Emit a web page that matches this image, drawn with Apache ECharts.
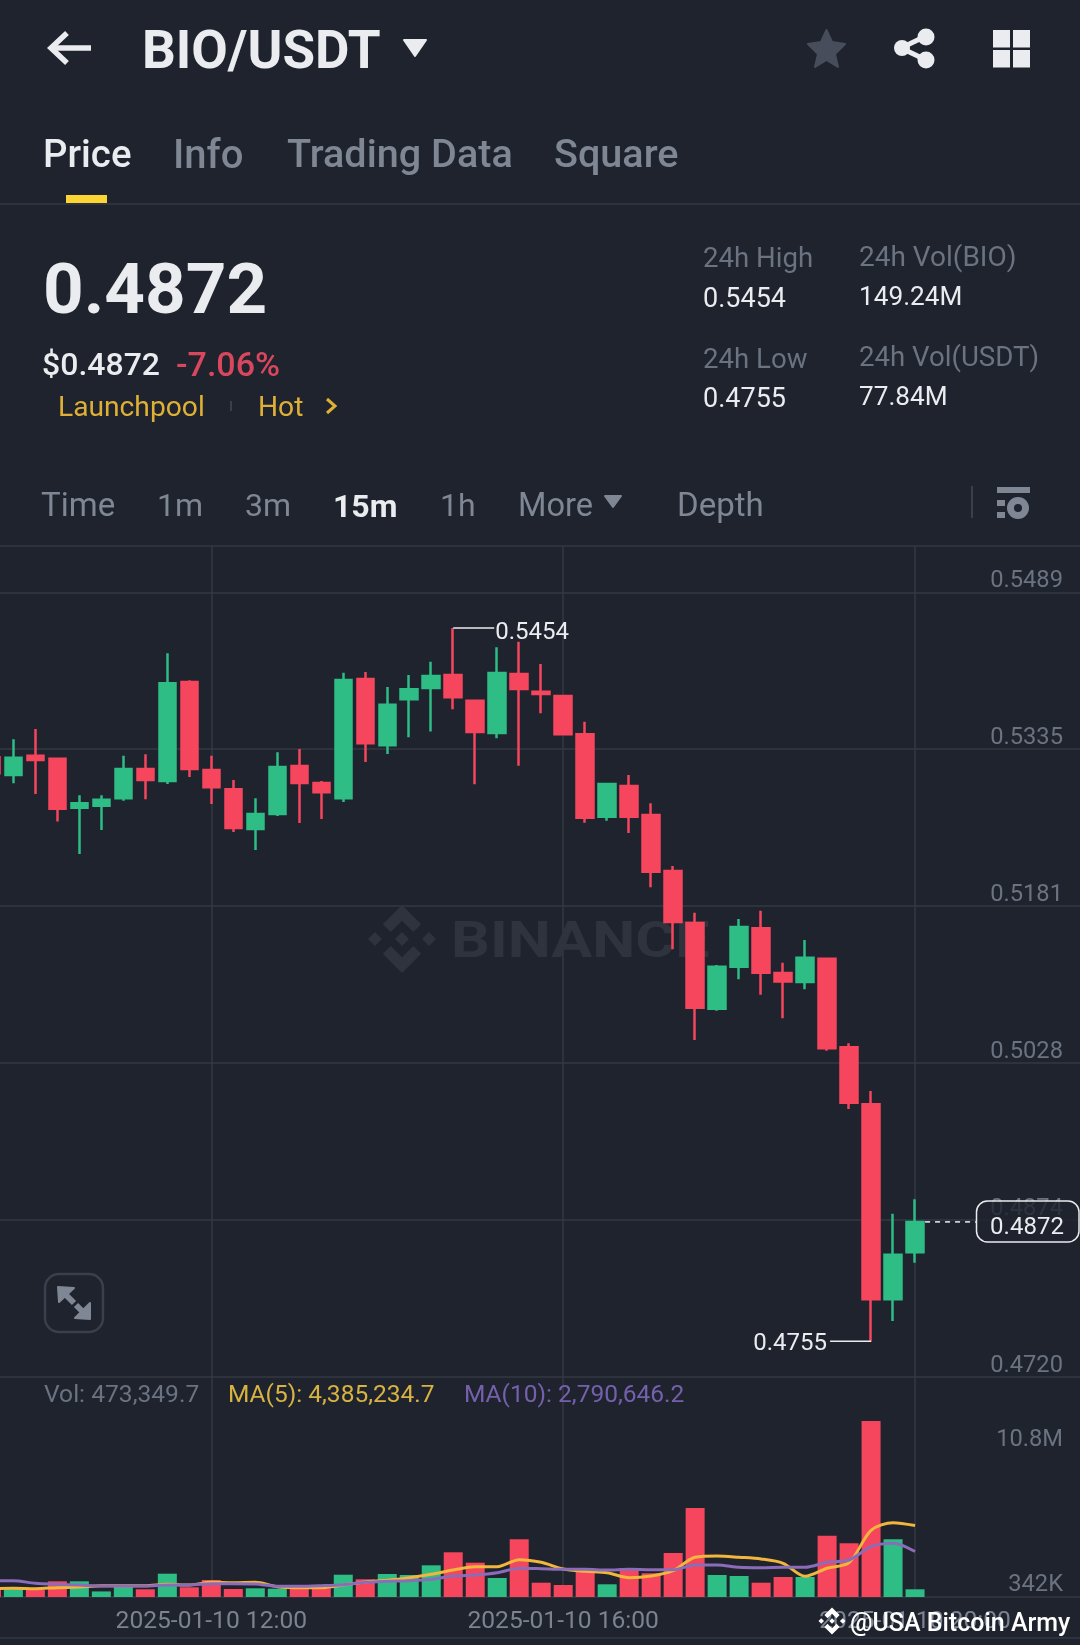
<!DOCTYPE html>
<html>
<head>
<meta charset="utf-8">
<title>BIO/USDT</title>
<style>
html, body { margin: 0; padding: 0; background: #1e232e; width: 1080px; height: 1645px; overflow: hidden; }
/* the first candle is cut by the screen edge, so the canvas starts left of the page */
#main { position: absolute; left: -20px; top: 0; width: 1100px; height: 1645px; }
</style>
<script src="https://cdn.jsdelivr.net/npm/echarts@6/dist/echarts.min.js"></script>
</head>
<body>
<div id="main"></div>
<script>
var times = ['09:30','09:45','10:00','10:15','10:30','10:45','11:00','11:15','11:30','11:45',
    '12:00','12:15','12:30','12:45','13:00','13:15','13:30','13:45','14:00','14:15',
    '14:30','14:45','15:00','15:15','15:30','15:45','16:00','16:15','16:30','16:45',
    '17:00','17:15','17:30','17:45','18:00','18:15','18:30','18:45','19:00','19:15',
    '19:30','19:45','20:00','20:15','20:30','20:45','21:00','21:15','21:30','21:45'];

// open, close, low, high
var candles = [
    [0.53273,0.53116,0.53083,0.53312],[0.53100,0.53269,0.53018,0.53449],[0.53289,0.53247,0.52913,0.53550],
    [0.53260,0.52770,0.52645,0.53260],[0.52779,0.52822,0.52325,0.52900],[0.52799,0.52858,0.52560,0.52900],
    [0.52871,0.53158,0.52848,0.53289],[0.53158,0.53050,0.52861,0.53302],[0.53041,0.53998,0.53011,0.54292],
    [0.54011,0.53158,0.53080,0.54027],[0.53148,0.52979,0.52815,0.53289],[0.52959,0.52580,0.52541,0.53050],
    [0.52570,0.52717,0.52365,0.52871],[0.52717,0.53178,0.52698,0.53322],[0.53188,0.53021,0.52629,0.53354],
    [0.53021,0.52930,0.52668,0.53041],[0.52871,0.54031,0.52835,0.54102],[0.54040,0.53410,0.53227,0.54109],
    [0.53390,0.53789,0.53305,0.53962],[0.53841,0.53939,0.53469,0.54080],[0.53952,0.54070,0.53527,0.54210],
    [0.54080,0.53861,0.53743,0.54540],[0.53828,0.53521,0.53008,0.53828],[0.53511,0.54099,0.53459,0.54351],
    [0.54089,0.53942,0.53191,0.54406],[0.53916,0.53893,0.53704,0.54187],[0.53874,0.53498,0.53498,0.53887],
    [0.53498,0.52681,0.52632,0.53622],[0.52691,0.53011,0.52652,0.53021],[0.52992,0.52691,0.52531,0.53100],
    [0.52708,0.52152,0.51999,0.52822],[0.52159,0.51659,0.51391,0.52208],[0.51649,0.50819,0.50502,0.51750],
    [0.50809,0.51221,0.50790,0.51237],[0.51221,0.51610,0.51097,0.51688],[0.51597,0.51162,0.50947,0.51770],
    [0.51159,0.51077,0.50715,0.51260],[0.51071,0.51309,0.50999,0.51483],[0.51300,0.50421,0.50398,0.51300],
    [0.50431,0.49888,0.49826,0.50470],[0.49872,0.47961,0.47546,0.50003],[0.47961,0.48399,0.47749,0.48801],
    [0.48422,0.48719,0.48320,0.48941]
];

var volumes = [430000,491000,430000,964000,964000,342000,632000,473000,1431000,596000,
    1044000,491000,534000,510000,534000,534000,1369000,1087000,1412000,1351000,
    1946000,2745000,2106000,1167000,3543000,878000,737000,1615000,780000,1762000,
    1455000,2702000,5465000,1351000,1289000,878000,1228000,1228000,3764000,3297000,
    10800000,3543000,473349.7];

var ma5 = [510000,534000,510000,571000,614000,694000,694000,694000,780000,737000,
    903000,878000,903000,632000,571000,571000,737000,921000,1025000,1185000,
    1394000,1658000,1860000,1860000,2290000,2131000,1719000,1578000,1492000,1185000,
    1289000,1615000,2438000,2517000,2438000,2333000,2069000,1271000,1762000,2106000,
    4095000,4562000,4385234.7];

var ma10 = [1001000,1001000,841000,780000,737000,675000,675000,675000,737000,737000,
    817000,817000,798000,657000,657000,694000,755000,903000,964000,1001000,
    1087000,1289000,1351000,1492000,1762000,1738000,1701000,1701000,1658000,1701000,
    1676000,1676000,1965000,1965000,1824000,1799000,1824000,1824000,2131000,2272000,
    3088000,3297000,2790646.2];

var priceTicks = [0.4720,0.48738,0.50276,0.51814,0.53352,0.5489];
var priceLabels = ['0.4720','0.4874','0.5028','0.5181','0.5335','0.5489'];
var volTicks = [342000,10800000];
var volLabels = ['342K','10.8M'];
var timeTicks = [10,26,42];
var highIdx = 21, highVal = 0.5454, lowIdx = 40, lowVal = 0.4755, lastVal = 0.4872;

var RED = '#f6465d', GREEN = '#2ebd85', BG = '#1e232e', LINE = '#343943';
var GREY = '#7f8794', DIM = '#6b7280', WHITE = '#eaecef', GOLD = '#dfb035';
var FONT = 'Roboto';
var PAGE_SHIFT = 20;

var chartDom = document.getElementById('main');
var chart = echarts.init(chartDom);

var fullTimes = times.map(function (t) { return '2025-01-10 ' + t; });
var volData = volumes.map(function (v, i) {
    var c = candles[i];
    return { value: v, itemStyle: { color: c[1] >= c[0] ? GREEN : RED } };
});

function isTimeTick(idx) { return timeTicks.indexOf(idx) >= 0; }

function text(x, y, str, size, color, weight, align) {
    return {
        type: 'text', z: 50, silent: true,
        style: {
            x: x, y: y + size * 0.09, text: str, fill: color,
            fontFamily: FONT, fontSize: size, fontWeight: weight || 400,
            align: align || 'left', verticalAlign: 'middle'
        }
    };
}
function line(x1, y1, x2, y2, color, w, dash, z) {
    return {
        type: 'line', z: z || 50, silent: true,
        shape: { x1: x1, y1: y1, x2: x2, y2: y2 },
        style: { stroke: color, lineWidth: w, lineDash: dash || null, lineCap: 'butt' }
    };
}
function poly(points, color, z) {
    return {
        type: 'polygon', z: z || 50, silent: true,
        shape: { points: points },
        style: { fill: color, stroke: color, lineWidth: 2, lineJoin: 'round' }
    };
}
function circle(cx, cy, r, color) {
    return { type: 'circle', z: 50, silent: true, shape: { cx: cx, cy: cy, r: r }, style: { fill: color } };
}
function rect(x, y, w, h, color, r) {
    return { type: 'rect', z: 50, silent: true, shape: { x: x, y: y, width: w, height: h, r: r || 0 }, style: { fill: color } };
}
// diamond mark: centre, two side dots, two chevrons
var logoParts = [
    [[0, -8], [8, 0], [0, 8], [-8, 0]],
    [[-31, -8], [-23, 0], [-31, 8], [-39, 0]],
    [[31, -8], [39, 0], [31, 8], [23, 0]],
    [[0, -39], [22, -17], [13, -8], [0, -21], [-13, -8], [-22, -17]],
    [[0, 39], [22, 17], [13, 8], [0, 21], [-13, 8], [-22, 17]]
];
function logo(x, y, size, color, z) {
    var k = size / 78;
    return logoParts.map(function (part) {
        return {
            type: 'polygon', z: z, silent: true,
            shape: { points: part.map(function (p) { return [x + p[0] * k, y + p[1] * k]; }) },
            style: { fill: color }
        };
    });
}

function headerGraphics() {
    var g = [];
    // top bar
    g.push(line(52, 48, 91, 48, WHITE, 5.5));
    g.push({ type: 'polyline', z: 50, silent: true, shape: { points: [[67, 33], [51, 48], [67, 63]] },
        style: { stroke: WHITE, lineWidth: 5.5, fill: null } });
    g.push(text(142, 50, 'BIO/USDT', 53, WHITE, 700));
    g.push(poly([[404, 40], [426, 40], [415, 56]], WHITE));
    g.push(poly([[826.5, 30], [832, 42], [845, 44], [835, 54], [838, 67], [826.5, 60], [815, 67], [818, 54], [808, 44], [821, 42]], '#474d5a'));
    g.push(line(901, 48, 926, 36, WHITE, 5));
    g.push(line(901, 48, 926, 60, WHITE, 5));
    g.push(circle(902, 48, 8, WHITE), circle(926, 37, 8.5, WHITE), circle(926, 60, 8.5, WHITE));
    g.push(rect(993, 30, 17, 17.5, WHITE), rect(1013, 30, 17, 17.5, WHITE), rect(993, 50, 17, 17.5, WHITE), rect(1013, 50, 17, 17.5, WHITE));
    // tabs
    g.push(text(43, 154, 'Price', 38.4, WHITE, 500));
    g.push(text(173, 154, 'Info', 40, GREY, 500));
    g.push(text(287, 154, 'Trading Data', 39.6, GREY, 500));
    g.push(text(554, 154, 'Square', 39.6, GREY, 500));
    g.push(rect(66, 195, 41, 8, '#fcd535'));
    g.push(line(0, 204, 1080, 204, LINE, 1.5));
    // price block
    g.push(text(43, 289, '0.4872', 71, WHITE, 700));
    g.push(text(42, 364, '$0.4872', 32, WHITE, 500));
    g.push(text(176, 364, '-7.06%', 34, '#d9475e', 500));
    g.push(text(58, 406, 'Launchpool', 28.2, GOLD));
    g.push(line(231, 401, 231, 411, '#3a404b', 2));
    g.push(text(258, 406, 'Hot', 28.2, GOLD));
    g.push({ type: 'polyline', z: 50, silent: true, shape: { points: [[327, 399], [335, 406], [327, 413]] },
        style: { stroke: GOLD, lineWidth: 3, fill: null } });
    g.push(text(703, 258, '24h High', 27.6, DIM));
    g.push(text(703, 298, '0.5454', 27, WHITE));
    g.push(text(703, 359, '24h Low', 27.6, DIM));
    g.push(text(703, 398, '0.4755', 27, WHITE));
    g.push(text(859, 256, '24h Vol(BIO)', 28, DIM));
    g.push(text(859, 296, '149.24M', 26.2, WHITE));
    g.push(text(859, 357, '24h Vol(USDT)', 27.6, DIM));
    g.push(text(859, 396, '77.84M', 26.2, WHITE));
    // interval row
    g.push(text(41, 505, 'Time', 33, GREY));
    g.push(text(157, 505, '1m', 32, GREY));
    g.push(text(245, 505, '3m', 32, GREY));
    g.push(text(333, 506, '15m', 32, WHITE, 700));
    g.push(text(440, 505, '1h', 32, GREY));
    g.push(text(518, 505, 'More', 32.6, GREY));
    g.push(poly([[605, 496], [621, 496], [613, 507]], GREY));
    g.push(text(677, 505, 'Depth', 33, GREY));
    g.push(line(972, 486, 972, 518, '#3a404b', 2));
    g.push(rect(997, 487, 33, 6, GREY), rect(997, 500, 8, 6, GREY), rect(997, 512, 8, 6, GREY));
    g.push(circle(1018, 508, 11, GREY), circle(1018, 508, 4, BG));
    // pane rules
    g.push(line(0, 546, 1080, 546, LINE, 1.5, null, 1));
    g.push(line(0, 1638, 1080, 1638, LINE, 1.5, null, 1));
    // faint watermark
    g = g.concat(logo(402, 939, 68, '#2e333d', 1));
    var mark = text(0, 0, 'BINANCE', 50, '#2e333d', 700);
    mark.z = 1;
    mark.x = 451;
    mark.y = 940;
    mark.scaleX = 1.22;
    g.push(mark);
    // expand button
    g.push({ type: 'rect', z: 50, silent: true, shape: { x: 45, y: 1274, width: 58, height: 58, r: 14 },
        style: { fill: null, stroke: '#3a404b', lineWidth: 2.5 } });
    g.push(poly([[58, 1287], [74, 1288], [59, 1302]], GREY), poly([[90, 1319], [90, 1303], [75, 1318]], GREY));
    g.push(line(66, 1295, 74, 1303, GREY, 6), line(76, 1305, 83, 1312, GREY, 6));
    // volume header
    g.push(text(44, 1394, 'Vol: 473,349.7', 24.6, DIM));
    g.push(text(228, 1394, 'MA(5): 4,385,234.7', 24.5, '#d9b341'));
    g.push(text(464, 1394, 'MA(10): 2,790,646.2', 24.5, '#7660ac'));
    // reposter's mark
    g = g.concat(logo(832, 1621, 27, '#ffffff', 60));
    var credit = text(850, 1622, '@USA Bitcoin Army', 25, '#ffffff', 500);
    credit.z = 60;
    g.push(credit);
    return g;
}

var option = {
    backgroundColor: BG,
    animation: false,
    textStyle: { fontFamily: FONT },
    grid: [
        { left: 0.4, right: 0, top: 546, height: 831 },
        { left: 0.4, right: 0, top: 1377, height: 220 }
    ],
    xAxis: [
        {
            gridIndex: 0, type: 'category', data: fullTimes,
            axisLine: { show: false }, axisLabel: { show: false },
            axisTick: { show: false, alignWithLabel: true },
            splitLine: { show: true, alignWithLabel: true, interval: function (i) { return isTimeTick(i); }, lineStyle: { color: LINE, width: 1.5 } }
        },
        {
            gridIndex: 1, type: 'category', data: fullTimes,
            axisLine: { show: true, lineStyle: { color: LINE, width: 1.5 } },
            axisTick: { show: false, alignWithLabel: true },
            axisLabel: { interval: function (i) { return isTimeTick(i); }, color: '#7b8390', fontSize: 24.6, margin: 12, fontFamily: FONT },
            splitLine: { show: true, alignWithLabel: true, interval: function (i) { return isTimeTick(i); }, lineStyle: { color: LINE, width: 1.5 } }
        }
    ],
    yAxis: [
        {
            gridIndex: 0, type: 'value', position: 'right', min: 0.472, max: 0.553438, scale: true,
            axisLine: { show: false },
            axisTick: { show: false, customValues: priceTicks },
            axisLabel: {
                inside: true, margin: 17, color: DIM, fontSize: 23.7, fontFamily: FONT,
                verticalAlign: 'bottom', lineHeight: 22,
                customValues: priceTicks,
                formatter: function (v) { return priceLabels[priceTicks.indexOf(v)]; }
            },
            splitLine: { show: true, lineStyle: { color: LINE, width: 1.5 } }
        },
        {
            gridIndex: 1, type: 'value', position: 'right', min: 0, max: 13508000,
            axisLine: { show: false },
            axisTick: { show: false, customValues: volTicks },
            splitLine: { show: false },
            axisLabel: {
                inside: true, margin: 17, color: DIM, fontSize: 23.7, fontFamily: FONT,
                customValues: volTicks,
                formatter: function (v) { return '{' + (v === volTicks[0] ? 'lo' : 'hi') + '|' + volLabels[volTicks.indexOf(v)] + '}'; },
                rich: {
                    lo: { color: DIM, fontSize: 23.7, fontFamily: FONT, padding: [0, 0, 13, 0] },
                    hi: { color: DIM, fontSize: 23.7, fontFamily: FONT, padding: [37, 0, 0, 0] }
                }
            }
        }
    ],
    series: [
        {
            name: 'BIO/USDT', type: 'candlestick', xAxisIndex: 0, yAxisIndex: 0, data: candles,
            barWidth: 17,
            itemStyle: { color: GREEN, color0: RED, borderColor: GREEN, borderColor0: RED, borderWidth: 2.5 }
        },
        {
            name: 'Vol', type: 'bar', xAxisIndex: 1, yAxisIndex: 1, data: volData,
            barWidth: 19
        },
        {
            name: 'MA(5)', type: 'line', xAxisIndex: 1, yAxisIndex: 1, data: ma5, smooth: 0.3,
            showSymbol: false, lineStyle: { color: '#f2b63c', width: 3 }
        },
        {
            name: 'MA(10)', type: 'line', xAxisIndex: 1, yAxisIndex: 1, data: ma10, smooth: 0.3,
            showSymbol: false, lineStyle: { color: '#8a6cb8', width: 3 }
        }
    ]
};
chart.setOption(option);

// extreme and last-price markers need pixel positions from the price scale
var hi = chart.convertToPixel({ gridIndex: 0 }, [highIdx, highVal]);
var lo = chart.convertToPixel({ gridIndex: 0 }, [lowIdx, lowVal]);
var last = chart.convertToPixel({ gridIndex: 0 }, [candles.length - 1, lastVal]);
hi[0] -= PAGE_SHIFT; lo[0] -= PAGE_SHIFT; last[0] -= PAGE_SHIFT;
var extras = [
    line(hi[0], hi[1], hi[0] + 41, hi[1], WHITE, 1.5),
    text(hi[0] + 42, hi[1] + 3, '0.5454', 24, WHITE),
    line(lo[0], lo[1], lo[0] - 41, lo[1], WHITE, 1.5),
    text(lo[0] - 44, lo[1] + 1, '0.4755', 24, WHITE, 400, 'right'),
    line(last[0] + 10, last[1], 976, last[1], WHITE, 1.5, [5, 5]),
    { type: 'rect', z: 50, silent: true, shape: { x: 976.5, y: 1201, width: 102.5, height: 41, r: 11 },
      style: { fill: 'rgba(30,35,46,0.8)', stroke: WHITE, lineWidth: 1.5 } },
    text(1027, 1226, '0.4872', 24, WHITE, 400, 'center')
];
chart.setOption({ graphic: { elements: [{ type: 'group', x: PAGE_SHIFT, children: headerGraphics().concat(extras) }] } });
</script>
</body>
</html>
